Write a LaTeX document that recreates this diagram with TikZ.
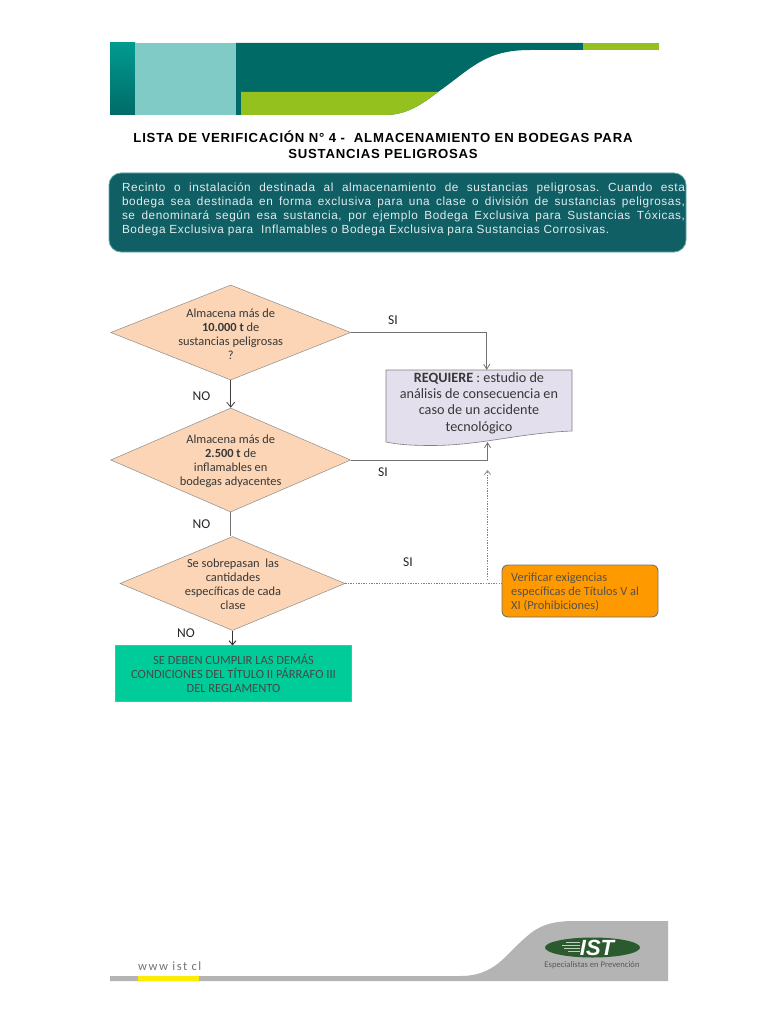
\documentclass[tikz,border=0pt]{standalone}
\usepackage{fontspec}
\setmainfont{Carlito}
\newfontfamily\hdr[LetterSpace=6]{Liberation Sans}
\newfontfamily\bdy[LetterSpace=5]{Liberation Sans}
\newfontfamily\logofont{Liberation Sans}
\usetikzlibrary{arrows.meta,shapes.geometric}
\definecolor{tealdark}{HTML}{006B66}
\definecolor{tealmid}{HTML}{009A90}
\definecolor{teallight}{HTML}{80CBC5}
\definecolor{limeg}{HTML}{95C11F}
\definecolor{boxteal}{HTML}{0F5F65}
\definecolor{peach}{HTML}{FBD5B5}
\definecolor{lilac}{HTML}{E3DFEC}
\definecolor{okgreen}{HTML}{00CC99}
\definecolor{orng}{HTML}{FF9900}
\definecolor{footgrey}{HTML}{B4B4B4}
\definecolor{logogreen}{HTML}{2B5A2E}
\tikzset{
 x=1pt,y=-1pt,
 decision/.style={fill=peach,draw=black!45,line width=0.5pt},
 dtext/.style={align=center,font=\fontsize{12.4}{14}\selectfont,text=black!78,inner sep=0},
 lbl/.style={font=\fontsize{13.5}{15}\selectfont,text=black!85,inner sep=0},
 conn/.style={draw=black!55,line width=0.8pt},
 thin tip/.style={-{Straight Barb[length=5pt,width=6pt]}},
 dots/.style={draw=black!50,line width=0.7pt,dash pattern=on 1.4pt off 1.2pt},
}
\begin{document}
\begin{tikzpicture}
\useasboundingbox (0,0) rectangle (768,1024);
\fill[white] (0,0) rectangle (768,1024);
% banner
\shade[top color=tealmid,bottom color=tealdark] (110,43) rectangle (135,115);
\fill[teallight] (135,43) rectangle (236,115);
\fill[tealdark] (236,43) -- (583,43) -- (583,50) -- (530,50) .. controls (485,50) and (472,68) .. (438,92)
 .. controls (420,106) and (405,115) .. (385,115) -- (236,115) -- cycle;
\fill[limeg] (583,43) rectangle (659,50);
\fill[limeg] (241,115) -- (241,92) -- (438,92) .. controls (420,106) and (405,115) .. (385,115) -- cycle;
% title
\node[name=title,align=center,inner sep=0,font=\hdr\bfseries\fontsize{13.15}{15.5}\selectfont] at (383,144.7)
 {LISTA DE VERIFICACIÓN N° 4 -\ \ ALMACENAMIENTO EN BODEGAS PARA\\SUSTANCIAS PELIGROSAS};
% definition box
\node[name=defbox,draw=teallight!70!boxteal,line width=0.8pt,fill=boxteal,rounded corners=12pt,minimum width=577pt,minimum height=79pt,inner sep=0] at (397.5,212.5) {};
\node[name=deftext,text=white!88!boxteal,text width=563pt,inner sep=0,font=\bdy\fontsize{11.8}{14}\selectfont,align=justify] at (403.5,209.7)
 {\frenchspacing Recinto o instalación destinada al almacenamiento de sustancias peligrosas. Cuando esta\linebreak
 bodega sea destinada en forma exclusiva para una clase o división de sustancias peligrosas,\linebreak
 se denominará según esa sustancia, por ejemplo Bodega Exclusiva para Sustancias Tóxicas,\linebreak
 Bodega Exclusiva para\ \ Inflamables o Bodega Exclusiva para Sustancias Corrosivas.};
% decisions
\node[name=d1,decision,diamond,inner sep=0,aspect=2.53,minimum width=240pt,minimum height=95pt] at (230.7,332.5) {};
\node[name=d2,decision,diamond,inner sep=0,aspect=2.31,minimum width=240pt,minimum height=104pt] at (230.7,460) {};
\node[name=d3,decision,diamond,inner sep=0,aspect=2.39,minimum width=225pt,minimum height=94pt] at (232.5,583.5) {};
\node[name=d1t,dtext] at (230.7,334) {Almacena más de\\\textbf{10.000 t} de\\sustancias peligrosas\\?};
\node[name=d2t,dtext] at (230.7,461.5) {Almacena más de\\\textbf{2.500 t} de\\inflamables en\\bodegas adyacentes};
\node[name=d3t,dtext] at (233,584) {Se sobrepasan\ \ las\\cantidades\\específicas de cada\\clase};
% doc
\path[fill=lilac,draw=black!50,line width=0.6pt] (386,370) -- (572,370) -- (572,431)
 .. controls (520,433) and (480,445.5) .. (432,445.5) .. controls (415,445.5) and (400,445) .. (386,442) -- cycle;
\coordinate (doctop) at (486.7,370);
\coordinate (docbot) at (487.5,442);
\node[name=doct,align=center,inner sep=0,font=\fontsize{14.2}{16.2}\selectfont,text=black!78] at (479,403)
 {\textbf{REQUIERE} : estudio de\\análisis de consecuencia en\\caso de un accidente\\tecnológico};
% result
\node[name=res,rectangle,fill=okgreen,draw=black!40,line width=0.5pt,minimum width=236pt,minimum height=56pt,inner sep=0,align=center,font=\fontsize{12.5}{14}\selectfont,text=black!72] at (233.5,673.7)
 {SE DEBEN CUMPLIR LAS DEMÁS\\CONDICIONES DEL TÍTULO II PÁRRAFO III\\DEL REGLAMENTO};
% orange
\node[name=verif,rectangle,rounded corners=6pt,fill=orng,draw=black!55,line width=0.9pt,minimum width=156pt,minimum height=52pt,inner sep=0] at (580,591) {};
\node[name=verift,align=left,inner sep=0,font=\fontsize{12.4}{14.3}\selectfont,text=black!68,anchor=west] at (511,592)
 {Verificar exigencias\\específicas de Títulos V al\\XI (Prohibiciones)};
% connectors
\draw[conn,thin tip] (d1.east) -- (486.7,332.5) -- (doctop);
\draw[conn,thin tip] (d2.east) -- (487.5,460) -- (docbot);
\draw[conn,-{Straight Barb[length=5pt,width=8pt]},draw=black!75] (d1.south) -- (d2.north);
\draw[conn] (d2.south) -- (d2.south |- d3.north);
\draw[conn,-{Straight Barb[length=4pt,width=7pt]},draw=black!80,line width=1pt] (d3.south) -- (d3.south |- res.north);
\draw[dots] (d3.east) -- (d3.east -| verif.west);
\coordinate (dotstart) at (487.5,580);
\coordinate (dotend) at (487.5,470);
\draw[dots,-{Straight Barb[length=4pt,width=6pt]}] (dotstart) -- (dotend);
% labels
\node[name=s1,lbl] at (393,320) {SI};
\node[name=s2,lbl] at (383,472) {SI};
\node[name=s3,lbl] at (408,562) {SI};
\node[name=n1,lbl] at (201.5,396) {NO};
\node[name=n2,lbl] at (201.5,524) {NO};
\node[name=n3,lbl] at (186,633) {NO};
% footer
\fill[footgrey] (110,976) -- (460,976) .. controls (495,976) and (505,955) .. (525,938) .. controls (538,926) and (550,921) .. (575,921) -- (668,921) -- (668,981) -- (110,981) -- cycle;
\fill[yellow!95!orange] (138,976) rectangle (199,981);
\node[name=www,inner sep=0,anchor=west,text=black!55,font=\fontsize{12.5}{14}\selectfont\addfontfeature{LetterSpace=12}] at (138,966.5) {www ist cl};
\node[name=logo,ellipse,fill=logogreen,minimum width=95pt,minimum height=20pt,inner sep=0] at (592.5,947.5) {};
\foreach \yy/\xx in {942/566,945/562,948/564,951/568}{
  \draw[white!70!logogreen,line width=0.9pt] (\xx,\yy) -- (580,\yy);
}
\node[name=logot,inner sep=0,text=white,font=\logofont\bfseries\itshape\fontsize{22}{22}\selectfont] at (597,947.5) {IST};
\node[name=esp,inner sep=0,text=black!65,font=\fontsize{8.6}{9}\selectfont] at (592,965) {Especialistas en Prevención};
\end{tikzpicture}
\end{document}
